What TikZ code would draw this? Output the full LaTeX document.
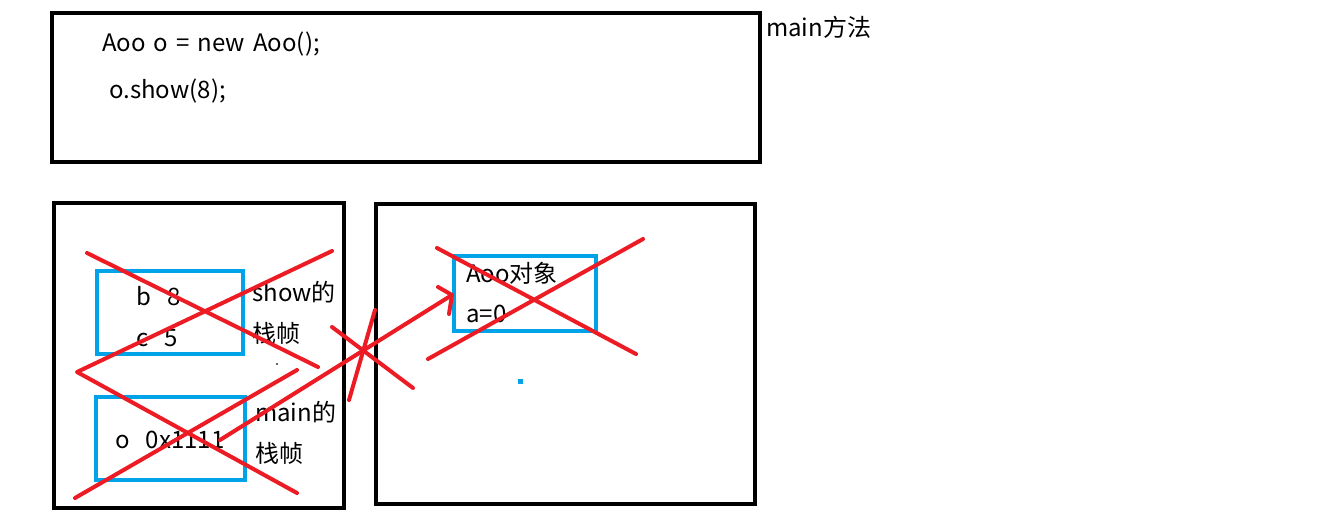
\documentclass[tikz,border=0pt]{standalone}
\usepackage{fontspec}
\setmainfont[WordSpace=1.5]{Noto Sans CJK SC}
\definecolor{pblue}{HTML}{00A2E8}
\definecolor{pred}{HTML}{ED1C24}
\begin{document}
\begin{tikzpicture}[x=1pt,y=-1pt,
  blk/.style={draw=black,line width=4pt,inner sep=0pt},
  blu/.style={draw=pblue,line width=4pt,inner sep=0pt},
  txt/.style={anchor=base west,inner sep=0pt,font=\fontsize{24}{28}\selectfont},
  cross/.style={draw=pred,line width=4pt,line cap=round,line join=round}]
\useasboundingbox[fill=white] (0,0) rectangle (1329,530);
% frames
\node[blk,minimum width=708pt,minimum height=149pt] (top) at (406,87.5) {};
\node[blk,minimum width=290pt,minimum height=305pt] (stack) at (199,355.5) {};
\node[blk,minimum width=379pt,minimum height=300pt] (heap) at (565.5,354) {};
% code
\node[txt] (l1) at (102,51) {Aoo o = new Aoo();};
\node[txt] (l2) at (109,98) {o.show(8);};
\node[txt] (mm) at (766,36) {main方法};
% stack frames
\node[blu,minimum width=146pt,minimum height=83pt] (show) at (170,312.5) {};
\node[txt] (b) at (136,305) {b\ \ 8};
\node[txt] (c) at (136,346) {c\ \ 5};
\node[txt] (showl) at (252,301) {show的};
\node[txt] (showz) at (252,342) {栈帧};
\node[blu,minimum width=149pt,minimum height=83pt] (mainf) at (170.5,438.5) {};
\node[txt] (o) at (115,448) {o\ \ 0x1111};
\node[txt] (mainl) at (255,421) {main的};
\node[txt] (mainz) at (255,462) {栈帧};
% heap object
\node[blu,minimum width=142pt,minimum height=75pt] (obj) at (525,293.5) {};
\node[txt] (on) at (466,282) {Aoo对象};
\node[txt] (oa) at (466,322) {a=0};
\node[fill=pblue,minimum size=5pt,inner sep=0pt] (dot) at (520,381) {};
\node[fill=black!60,minimum size=1.2pt,inner sep=0pt] (sdot) at (277,364) {};
% arrow from o to object
\coordinate (from) at (220,440);
\coordinate (tip) at (452,295);
\draw[cross] (from) -- (tip);
\draw[cross] (438,287) -- (tip) -- (449,314);
% crosses
\draw[cross] (87,253) -- (318,367);
\draw[cross] (332,251) -- (77,372) -- (297,493);
\draw[cross] (297,370) -- (75,498);
\draw[cross] (332,327) -- (413,388);
\draw[cross] (375,310) -- (349,400);
\draw[cross] (437,248) -- (636,354);
\draw[cross] (643,239) -- (428,359);
\end{tikzpicture}
\end{document}
